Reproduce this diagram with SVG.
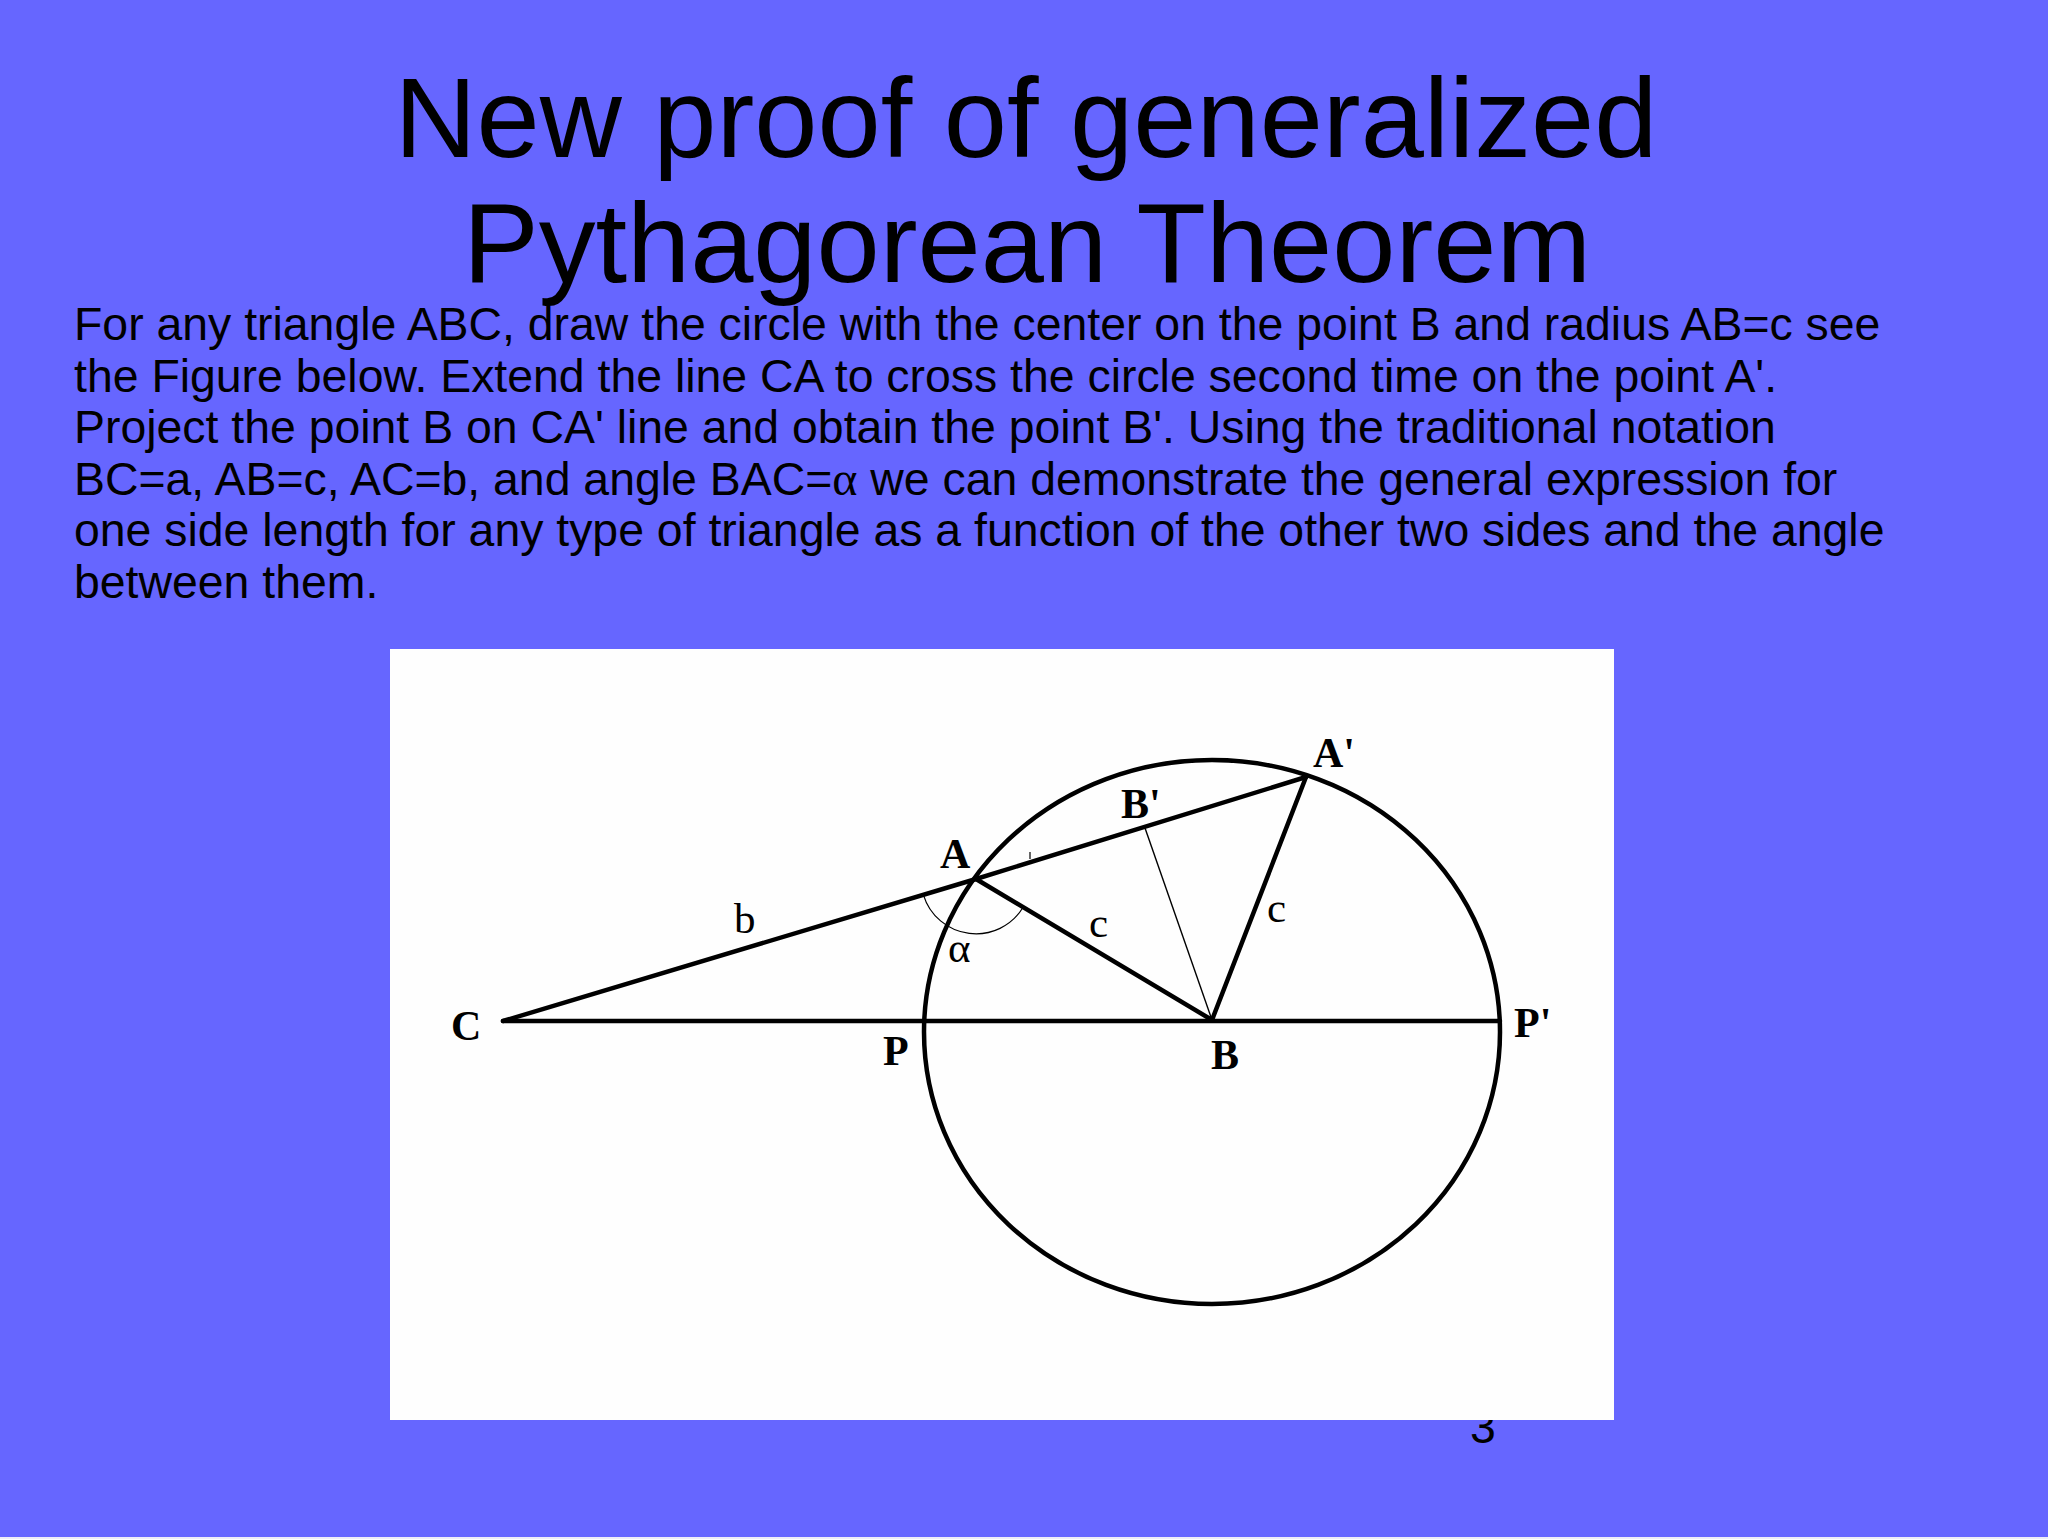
<svg xmlns="http://www.w3.org/2000/svg" width="2048" height="1539" viewBox="0 0 2048 1539">
  <style>
    .title { font-family: "Liberation Sans", Arial, sans-serif; font-size: 113.6px; fill: #000; }
    .body { font-family: "Liberation Sans", Arial, sans-serif; font-size: 46.4px; fill: #000; }
    .greek { font-family: "Liberation Serif", "Times New Roman", serif; }
    .thick { stroke: #000; stroke-width: 4.5; fill: none; stroke-linecap: round; stroke-linejoin: round; }
    .thin { stroke: #000; stroke-width: 1.4; fill: none; }
    .hair { stroke: #000; stroke-width: 1.2; fill: none; }
    .pt { font-family: "Liberation Serif", "Times New Roman", serif; font-weight: bold; font-size: 42px; fill: #000; }
    .side { font-family: "Liberation Serif", "Times New Roman", serif; font-size: 43px; fill: #000; }
  </style>
  <rect x="0" y="0" width="2048" height="1539" fill="#6666ff"/>
  <rect x="0" y="1537" width="2048" height="2" fill="#eeeef6"/>

  <g id="title">
    <text class="title" x="1026" y="157" text-anchor="middle">New proof of generalized</text>
    <text class="title" x="1027" y="282" text-anchor="middle">Pythagorean Theorem</text>
  </g>

  <g id="body">
    <text class="body" x="74" y="340">For any triangle ABC, draw the circle with the center on the point B and radius AB=c see</text>
    <text class="body" x="74" y="391.5">the Figure below. Extend the line CA to cross the circle second time on the point A'.</text>
    <text class="body" x="74" y="443">Project the point B on CA' line and obtain the point B'. Using the traditional notation</text>
    <text class="body" x="74" y="494.5">BC=a, AB=c, AC=b, and angle BAC=<tspan class="greek" font-size="48px">α</tspan> we can demonstrate the general expression for</text>
    <text class="body" x="74" y="546">one side length for any type of triangle as a function of the other two sides and the angle</text>
    <text class="body" x="74" y="597.5">between them.</text>
  </g>

  <g id="page-number">
    <text class="body" x="1470" y="1443">3</text>
  </g>

  <g id="figure">
    <rect id="figure-frame" x="390" y="649" width="1224" height="771" fill="#fefefe"/>
    <g id="circle">
      <ellipse class="thick" cx="1212" cy="1032" rx="288" ry="272"/>
    </g>
    <g id="connectors">
      <line class="thick" x1="503" y1="1021" x2="1500" y2="1021"/>
      <polyline class="thick" points="503,1021 976,879 1306,777"/>
      <line class="thick" x1="976" y1="879" x2="1212" y2="1020"/>
      <line class="thick" x1="1306" y1="777" x2="1212" y2="1020"/>
      <line class="thin" x1="1145" y1="828" x2="1212" y2="1020"/>
      <path class="hair" d="M 923.4 894.8 A 55 55 0 0 0 1023.1 907.3"/>
      <line class="hair" x1="1030" y1="852" x2="1030" y2="859"/>
    </g>
    <g id="point-C"><text class="pt" x="451" y="1040">C</text></g>
    <g id="point-P"><text class="pt" x="883" y="1065">P</text></g>
    <g id="point-B"><text class="pt" x="1211" y="1069">B</text></g>
    <g id="point-P-prime"><text class="pt" x="1514" y="1037">P'</text></g>
    <g id="point-A"><text class="pt" x="940" y="868">A</text></g>
    <g id="point-A-prime"><text class="pt" x="1313" y="767">A'</text></g>
    <g id="point-B-prime"><text class="pt" x="1121" y="818">B'</text></g>
    <g id="side-labels">
      <text class="side" x="734" y="933">b</text>
      <text class="side" x="1089" y="937">c</text>
      <text class="side" x="1267" y="922">c</text>
      <text class="side" x="948" y="962" font-size="46px">α</text>
    </g>
  </g>
</svg>
